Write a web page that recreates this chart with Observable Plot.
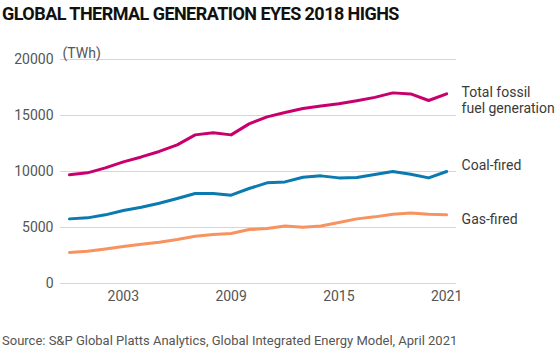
<!DOCTYPE html>
<html>
<head>
<meta charset="utf-8">
<script src="https://cdn.jsdelivr.net/npm/d3@7"></script>
<script src="https://cdn.jsdelivr.net/npm/@observablehq/plot@0.6"></script>
<style>
  body { margin: 0; background: #fff; font-family: Roboto, "Noto Sans", sans-serif; }
  #wrap { position: relative; width: 560px; height: 354px; }
  #title { position: absolute; left: 2px; top: 3px; font-size: 18px; font-weight: 700; letter-spacing: -0.55px; color: #111; white-space: nowrap; }
  #chart { position: absolute; left: 0; top: 31px; }
  #caption { position: absolute; left: 2px; top: 333px; font-size: 13px; color: #555; white-space: nowrap; }
</style>
</head>
<body>
<div id="wrap">
  <div id="title">GLOBAL THERMAL GENERATION EYES 2018 HIGHS</div>
  <div id="chart"></div>
  <div id="caption">Source: S&amp;P Global Platts Analytics, Global Integrated Energy Model, April 2021</div>
</div>
<script>
const years = [2000,2001,2002,2003,2004,2005,2006,2007,2008,2009,2010,2011,2012,2013,2014,2015,2016,2017,2018,2019,2020,2021];
const totalFossil = [9700,9880,10320,10860,11300,11790,12380,13270,13450,13270,14250,14880,15270,15620,15850,16040,16320,16620,17020,16930,16340,16930];
const coalFired = [5770,5860,6130,6520,6810,7170,7590,8040,8040,7890,8480,8990,9070,9490,9610,9430,9470,9730,10000,9760,9430,10000];
const gasFired = [2770,2880,3090,3300,3510,3690,3930,4220,4370,4460,4820,4910,5140,5030,5140,5450,5770,5950,6190,6300,6190,6130];
const seriesNames = ["Total fossil\nfuel generation", "Coal-fired", "Gas-fired"];
const seriesColors = ["#c8006e", "#0a7ab0", "#f7935f"];
const xTicks = [2003, 2009, 2015, 2021];
const yTicks = [0, 5000, 10000, 15000, 20000];

const rows = [];
[totalFossil, coalFired, gasFired].forEach((vals, i) => {
  vals.forEach((v, j) => rows.push({year: years[j], value: v, series: seriesNames[i]}));
});
const last = seriesNames.map((s, i) => ({series: s, year: years[years.length - 1], value: [totalFossil, coalFired, gasFired][i][years.length - 1]}));

const chart = Plot.plot({
  width: 560,
  height: 282,
  marginLeft: 60,
  marginRight: 104,
  marginTop: 28,
  marginBottom: 30,
  style: {fontFamily: "Roboto, sans-serif", fontSize: "14px", color: "#555", background: "transparent"},
  x: {domain: [1999.5, 2021.55], ticks: xTicks, tickFormat: d => String(d), tickSize: 0, tickPadding: 8, label: null},
  y: {domain: [0, 20000], ticks: yTicks, tickFormat: d => String(d), tickSize: 0, tickPadding: 7, label: null, grid: true},
  color: {domain: seriesNames, range: seriesColors},
  marks: [
    Plot.gridY(yTicks, {stroke: "#d6d6d6", strokeOpacity: 1, strokeWidth: 1}),
    Plot.axisX({ticks: xTicks, tickFormat: d => String(d), tickSize: 0, tickPadding: 8, fill: "#555", fontSize: 14}),
    Plot.axisY({ticks: yTicks, tickFormat: d => String(d), tickSize: 0, tickPadding: 7, fill: "#555", fontSize: 14}),
    Plot.line(rows, {x: "year", y: "value", z: "series", stroke: "series", strokeWidth: 3, strokeLinejoin: "round", strokeLinecap: "round"}),
    Plot.text(last.filter(d => d.series === seriesNames[0]), {x: "year", y: "value", text: "series", dx: 15, dy: 6, textAnchor: "start", fill: "#3a3a3a", fontSize: 14, lineHeight: 1.17}),
    Plot.text(last.filter(d => d.series === seriesNames[1]), {x: "year", y: "value", text: "series", dx: 15, dy: -6, textAnchor: "start", fill: "#3a3a3a", fontSize: 14}),
    Plot.text(last.filter(d => d.series === seriesNames[2]), {x: "year", y: "value", text: "series", dx: 15, dy: 5, textAnchor: "start", fill: "#3a3a3a", fontSize: 14}),
    Plot.text(["(TWh)"], {frameAnchor: "top-left", dx: 2, dy: -11, textAnchor: "start", fill: "#555", fontSize: 14})
  ]
});
document.getElementById("chart").appendChild(chart);
</script>
</body>
</html>
